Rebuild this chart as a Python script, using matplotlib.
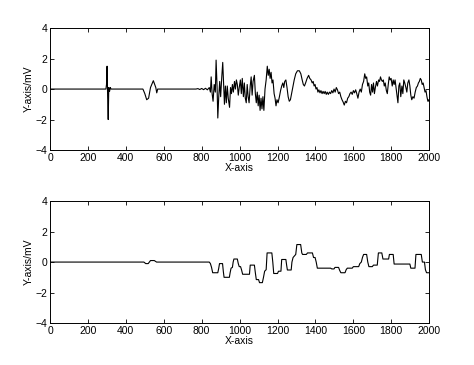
import matplotlib
matplotlib.use("Agg")
import matplotlib.pyplot as plt
import numpy as np

# ---- data ----
top_x = [0, 295, 298, 301, 304, 307, 310, 314, 318, 322, 490, 500, 510, 520, 530, 545, 552, 558, 563, 568, 575,
         770, 780, 790, 800, 810, 820, 830, 840, 846, 850, 855, 860, 866, 872, 876, 881, 885, 890, 895, 900, 906,
         911, 916, 920, 925, 930, 935, 940, 947, 952, 957, 962, 967, 973, 978, 983, 988, 993, 998, 1004, 1009,
         1014, 1020, 1025, 1030, 1035, 1040, 1045, 1050, 1056, 1061, 1066, 1071, 1078, 1083, 1088, 1093, 1098,
         1103, 1108, 1113, 1118, 1123, 1128, 1134, 1140, 1146, 1151, 1156, 1161, 1166, 1171, 1176, 1182, 1187,
         1192, 1197, 1203, 1210, 1216, 1222, 1228, 1233, 1238, 1244, 1250, 1256, 1262, 1268, 1274, 1280, 1288,
         1296, 1305, 1315, 1323, 1330, 1336, 1342, 1348, 1356, 1364, 1370, 1377, 1383, 1388, 1393, 1398, 1403,
         1408, 1413, 1418, 1424, 1429, 1435, 1440, 1446, 1451, 1457, 1462, 1468, 1474, 1480, 1486, 1492, 1498,
         1504, 1510, 1516, 1522, 1528, 1534, 1540, 1546, 1552, 1558, 1564, 1570, 1576, 1582, 1588, 1594, 1600,
         1606, 1612, 1618, 1624, 1630, 1636, 1642, 1648, 1654, 1660, 1665, 1670, 1676, 1681, 1686, 1691, 1696,
         1701, 1706, 1711, 1716, 1722, 1727, 1733, 1738, 1743, 1748, 1753, 1758, 1763, 1768, 1774, 1779, 1784,
         1789, 1794, 1799, 1805, 1810, 1815, 1820, 1825, 1830, 1835, 1840, 1845, 1850, 1856, 1861, 1866, 1871,
         1877, 1882, 1887, 1893, 1898, 1903, 1908, 1914, 1920, 1926, 1932, 1938, 1943, 1948, 1953, 1958, 1963,
         1968, 1973, 1978, 1983, 1988, 1993, 1997, 2000]
top_y = [0, 0, 0.3, 1.5, -0.5, -2.0, 0.1, -0.15, 0.1, 0, 0, -0.3, -0.7, -0.6, 0.1, 0.55, 0.3, 0.1, -0.25, 0.0, 0,
         0, 0.03, -0.03, 0.04, -0.04, 0.05, -0.05, 0.1, -0.2, 0.8, -0.3, -0.8, 0.3, -0.2, 1.9, 0.2, -1.9, -0.5,
         0.5, -0.5, 0.8, 1.75, 0.3, -1.0, 0.2, -0.9, 0.2, -0.6, -1.2, 0.1, -0.3, 0.3, -0.2, 0.5, 0.0, 0.6, 0.3,
         -0.4, 0.1, 0.6, -0.3, 0.7, -0.5, 0.4, -0.6, -0.9, 0.3, -0.5, -0.9, 0.2, 0.8, -0.4, 0.5, 0.9, -0.3, -0.9,
         -0.2, -1.1, -0.4, -1.4, -0.6, -1.3, -0.5, -1.4, 0.0, 0.6, 1.5, 0.9, 1.3, 0.7, 1.1, 0.4, 0.6, -0.3, -0.6,
         -1.1, -0.7, -0.9, -0.5, -0.1, 0.2, 0.4, 0.1, 0.5, 0.6, 0.1, -0.5, -0.8, -0.7, -0.3, 0.1, 0.6, 1.0, 1.2,
         1.2, 1.0, 0.6, 0.3, 0.2, 0.4, 0.7, 0.9, 0.7, 0.6, 0.4, 0.5, 0.2, 0.3, 0.0, 0.1, -0.2, -0.05, -0.25, -0.1,
         -0.3, -0.15, -0.3, -0.15, -0.35, -0.2, -0.35, -0.2, -0.3, -0.1, -0.25, 0.0, -0.2, 0.1, -0.05, -0.3, -0.2,
         -0.5, -0.7, -0.85, -1.05, -0.8, -0.9, -0.6, -0.5, -0.3, -0.2, -0.35, -0.1, -0.25, -0.05, -0.3, -0.6,
         -0.2, 0.0, -0.2, 0.3, 0.5, 1.0, 0.7, 0.8, 0.2, 0.4, -0.2, -0.4, 0.3, -0.2, 0.4, -0.3, 0.1, 0.5, 0.2, 0.6,
         0.5, 0.8, 0.6, 0.5, 0.6, 0.2, 0.4, -0.1, -0.3, 0.3, 0.8, 0.6, 0.7, 0.2, 0.6, 0.3, 0.6, 0.1, -0.4, -0.9,
         0.2, 0.4, -0.5, 0.2, -0.3, 0.6, 0.4, 0.1, -0.2, 0.4, 0.6, 0.2, -0.4, -0.7, -0.5, -0.6, -0.2, 0.1, 0.2,
         0.4, 0.5, 0.7, 0.6, 0.3, 0.4, 0.1, -0.2, -0.1, -0.5, -0.8, -0.7, -0.8]

bot_x = [0, 495, 500, 505, 518, 524, 530, 550, 556, 562, 840, 846, 852, 858, 885, 890, 894, 910, 914, 918, 946,
         950, 955, 962, 966, 970, 988, 993, 998, 1005, 1010, 1016, 1052, 1056, 1078, 1083, 1088, 1100, 1105, 1120,
         1126, 1132, 1140, 1145, 1170, 1175, 1180, 1200, 1205, 1218, 1222, 1244, 1248, 1252, 1272, 1276, 1282,
         1296, 1302, 1322, 1328, 1332, 1352, 1358, 1384, 1390, 1398, 1404, 1410, 1480, 1486, 1498, 1503, 1522,
         1528, 1534, 1556, 1562, 1568, 1594, 1600, 1628, 1634, 1642, 1648, 1654, 1670, 1676, 1682, 1700, 1706,
         1726, 1732, 1750, 1756, 1786, 1790, 1810, 1815, 1898, 1903, 1925, 1930, 1958, 1964, 1975, 1980, 1986, 2000]
bot_y = [0, 0, -0.05, -0.1, -0.1, 0.0, 0.1, 0.1, 0.05, 0, 0, -0.1, -0.35, -0.7, -0.7, -0.4, -0.1, -0.1, -0.6,
         -1.0, -1.0, -0.7, -0.4, -0.35, 0.0, 0.2, 0.2, -0.1, -0.3, -0.3, -0.5, -0.8, -0.8, -0.2, -0.2, -0.7, -1.15,
         -1.15, -1.35, -1.35, -1.0, -0.6, -0.5, 0.6, 0.6, 0.0, -0.75, -0.75, -0.6, -0.6, 0.17, 0.17, -0.2, -0.52,
         -0.52, 0.0, 0.3, 0.5, 1.15, 1.15, 0.6, 0.5, 0.5, 0.6, 0.6, 0.3, 0.3, 0.0, -0.4, -0.4, -0.45, -0.45, -0.35,
         -0.35, -0.55, -0.7, -0.7, -0.5, -0.4, -0.4, -0.3, -0.3, -0.1, 0.0, 0.3, 0.5, 0.5, 0.0, -0.3, -0.3, -0.2,
         -0.2, 0.6, 0.6, 0.2, 0.2, 0.5, 0.5, -0.13, -0.13, -0.4, -0.4, 0.5, 0.5, 0.0, 0.0, -0.5, -0.7, -0.7]

x_ticks = [0, 200, 400, 600, 800, 1000, 1200, 1400, 1600, 1800, 2000]
y_ticks = [-4, -2, 0, 2, 4]
x_label = "X-axis"
y_label = "Y-axis/mV"

plt.rcParams['font.family'] = ['Liberation Sans Narrow', 'Liberation Sans', 'DejaVu Sans']
plt.rcParams['font.size'] = 7.5

fig = plt.figure(figsize=(4.74, 3.65), dpi=100)
ax1 = fig.add_axes([0.1055, 0.589, 0.800, 0.334])
ax2 = fig.add_axes([0.1055, 0.115, 0.800, 0.334])

for ax, xs, ys in [(ax1, top_x, top_y), (ax2, bot_x, bot_y)]:
    ax.plot(xs, ys, color='black', linewidth=0.8)
    ax.set_xlim(0, 2000)
    ax.set_ylim(-4, 4)
    ax.set_xticks(x_ticks)
    ax.set_yticks(y_ticks)
    ax.tick_params(direction='in', top=True, right=True, length=3, width=0.6, pad=2)
    for s in ax.spines.values():
        s.set_linewidth(0.7)
    ax.set_xlabel(x_label, labelpad=0)
    ax.set_ylabel(y_label, labelpad=1)

fig.savefig("out.png", dpi=100, facecolor='white')
